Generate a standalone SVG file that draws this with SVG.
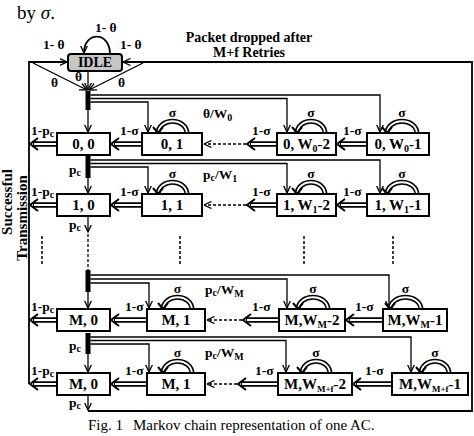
<svg xmlns="http://www.w3.org/2000/svg" width="474" height="436" viewBox="0 0 474 436">
<style>
.n rect{fill:#fff;stroke:#000;stroke-width:2}
.t{font-family:"Liberation Serif","Times New Roman",serif;font-weight:bold;font-size:15px;text-anchor:middle;fill:#000}
.l{font-family:"Liberation Serif","Times New Roman",serif;font-weight:bold;font-size:13.5px;fill:#000}
.s{font-size:10px}
.ss{font-size:9px}
.ln{fill:none;stroke:#000;stroke-width:1.3}
.fr{fill:none;stroke:#000;stroke-width:1.8}
.dsh{fill:none;stroke:#000;stroke-width:1.3;stroke-dasharray:3,2}
.dot{fill:none;stroke:#000;stroke-width:1.5;stroke-dasharray:3,2}
.bar{fill:#000}
.dbo{fill:none;stroke:#000;stroke-width:5.5}
.dbi{fill:none;stroke:#fff;stroke-width:2}
.dbh{fill:none;stroke:#000;stroke-width:2}
.lpo{fill:none;stroke:#000;stroke-width:5}
.lpi{fill:none;stroke:#fff;stroke-width:1.8}
.cap{font-family:"Liberation Serif","Times New Roman",serif;font-size:15px;fill:#000}
</style>
<defs>
<marker id="ah" viewBox="0 0 8 8" refX="7.5" refY="4" markerWidth="8" markerHeight="8" markerUnits="userSpaceOnUse" orient="auto"><path d="M0,0.5L7.5,4L0,7.5" fill="none" stroke="#000" stroke-width="1.3"/></marker>
</defs>

<text x="17" y="19" class="cap" style="font-size:19px">by <tspan font-style="italic">σ</tspan>.</text>

<g id="connectors">
  <!-- frame -->
  <path class="fr" d="M29,384V62H67" marker-end="url(#ah)"/>
  <path class="fr" d="M88,411H472V62H123" marker-end="url(#ah)"/>
  <path class="ln" d="M88,395V410" marker-end="url(#ah)"/>
  <!-- idle self loop -->
  <path class="fr" d="M110,54C110,31 84,31 84,53" marker-end="url(#ah)"/>
  <!-- from IDLE / frame to stage 0 -->
  <path class="ln" d="M33,63L87,90" marker-end="url(#ah)"/>
  <path class="ln" d="M143,63L89,90" marker-end="url(#ah)"/>
  <path class="ln" d="M88,71V90" marker-end="url(#ah)"/>
  <!-- bars -->
  <rect class="bar" x="85.5" y="91" width="5" height="19"/>
  <rect class="bar" x="85.5" y="156" width="5" height="22"/>
  <rect class="bar" x="85.5" y="270" width="5" height="22"/>
  <rect class="bar" x="85.5" y="333" width="5" height="21"/>
  <!-- row 0 fan -->
  <path class="ln" d="M90.5,95H380V132" marker-end="url(#ah)"/>
  <path class="ln" d="M90.5,98.5H287V132" marker-end="url(#ah)"/>
  <path class="ln" d="M90.5,102H148V132" marker-end="url(#ah)"/>
  <path class="ln" d="M88,110V132" marker-end="url(#ah)"/>
  <!-- row 1 fan -->
  <path class="ln" d="M90.5,160H380V193" marker-end="url(#ah)"/>
  <path class="ln" d="M90.5,163.5H287V193" marker-end="url(#ah)"/>
  <path class="ln" d="M90.5,167H148V193" marker-end="url(#ah)"/>
  <path class="ln" d="M88,178V193" marker-end="url(#ah)"/>
  <!-- row1 to row M -->
  <path class="ln" d="M88,217V232" marker-end="url(#ah)"/>
  <path class="dsh" d="M88,234V270"/>
  <!-- row M fan -->
  <path class="ln" d="M90.5,275H389V308" marker-end="url(#ah)"/>
  <path class="ln" d="M90.5,279H287V308" marker-end="url(#ah)"/>
  <path class="ln" d="M90.5,283H149V308" marker-end="url(#ah)"/>
  <path class="ln" d="M88,292V308" marker-end="url(#ah)"/>
  <!-- row M+f fan -->
  <path class="ln" d="M90.5,337H411V372" marker-end="url(#ah)"/>
  <path class="ln" d="M90.5,340.5H286V372" marker-end="url(#ah)"/>
  <path class="ln" d="M90.5,344H149V372" marker-end="url(#ah)"/>
  <path class="ln" d="M88,354V372" marker-end="url(#ah)"/>
  <!-- ellipsis dots -->
  <path class="dot" d="M42,236V265M180,236V265M304,236V265M393,236V265"/>

  <!-- double arrows row 0 -->
  <path class="dbo" d="M33,144H57M114,144H142M250,144H277M340,144H367"/>
  <path class="dbi" d="M34,144H57M115,144H142M251,144H277M341,144H367"/>
  <path class="dbh" d="M38,138L30,144L38,150M119,138L111,144L119,150M255,138L247,144L255,150M345,138L337,144L345,150"/>
  <path class="dsh" d="M246,144H204" marker-end="url(#ah)"/>
  <!-- double arrows row 1 -->
  <path class="dbo" d="M33,205H57M114,205H142M250,205H277M340,205H367"/>
  <path class="dbi" d="M34,205H57M115,205H142M251,205H277M341,205H367"/>
  <path class="dbh" d="M38,199L30,205L38,211M119,199L111,205L119,211M255,199L247,205L255,211M345,199L337,205L345,211"/>
  <path class="dsh" d="M246,205H204" marker-end="url(#ah)"/>
  <!-- double arrows row M -->
  <path class="dbo" d="M33,320H57M114,320H147M246,320H279M349,320H383"/>
  <path class="dbi" d="M34,320H57M115,320H147M247,320H279M350,320H383"/>
  <path class="dbh" d="M38,314L30,320L38,326M119,314L111,320L119,326M251,314L243,320L251,326M354,314L346,320L354,326"/>
  <path class="dsh" d="M242,320H207" marker-end="url(#ah)"/>
  <!-- double arrows row M+f -->
  <path class="dbo" d="M33,384H57M114,384H147M241,384H278M356,384H392"/>
  <path class="dbi" d="M34,384H57M115,384H147M242,384H278M357,384H392"/>
  <path class="dbh" d="M38,378L30,384L38,390M119,378L111,384L119,390M246,378L238,384L246,390M361,378L353,384L361,390"/>
  <path class="dsh" d="M237,384H207" marker-end="url(#ah)"/>

  <!-- self loops -->
  <path class="lpo" d="M187,134C187,117 158,117 158,134M325,134C325,117 297,117 297,134M417,134C417,117 387,117 387,134"/>
  <path class="lpi" d="M187,134C187,117 158,117 158,134M325,134C325,117 297,117 297,134M417,134C417,117 387,117 387,134"/>
  <path class="dbh" d="M153,127L158,133L163,127M292,127L297,133L302,127M382,127L387,133L392,127"/>

  <path class="lpo" d="M187,195C187,178 158,178 158,195M325,195C325,178 297,178 297,195M417,195C417,178 387,178 387,195"/>
  <path class="lpi" d="M187,195C187,178 158,178 158,195M325,195C325,178 297,178 297,195M417,195C417,178 387,178 387,195"/>
  <path class="dbh" d="M153,188L158,194L163,188M292,188L297,194L302,188M382,188L387,194L392,188"/>

  <path class="lpo" d="M192,310C192,293 163,293 163,310M328,310C328,293 298,293 298,310M421,310C421,293 390,293 390,310"/>
  <path class="lpi" d="M192,310C192,293 163,293 163,310M328,310C328,293 298,293 298,310M421,310C421,293 390,293 390,310"/>
  <path class="dbh" d="M158,303L163,309L168,303M293,303L298,309L303,303M385,303L390,309L395,303"/>

  <path class="lpo" d="M192,374C192,357 163,357 163,374M330,374C330,357 302,357 302,374M449,374C449,357 421,357 421,374"/>
  <path class="lpi" d="M192,374C192,357 163,357 163,374M330,374C330,357 302,357 302,374M449,374C449,357 421,357 421,374"/>
  <path class="dbh" d="M158,367L163,373L168,367M297,367L302,373L307,367M416,367L421,373L426,367"/>

  <!-- labels -->
  <g class="l">
    <text x="95" y="32">1- θ</text>
    <text x="43" y="49">1- θ</text>
    <text x="120" y="49">1- θ</text>
    <text x="51" y="87">θ</text>
    <text x="75" y="81">θ</text>
    <text x="118" y="87">θ</text>
    <text x="249" y="42" text-anchor="middle" style="font-size:14px">Packet dropped after</text>
    <text x="249" y="57" text-anchor="middle" style="font-size:14px">M+f  Retries</text>

    <text x="203" y="118">θ/W<tspan class="s" dy="3">0</tspan></text>
    <text x="203" y="179">p<tspan class="s" dy="2">c</tspan><tspan dy="-2">/W</tspan><tspan class="s" dy="3">1</tspan></text>
    <text x="205" y="294">p<tspan class="s" dy="2">c</tspan><tspan dy="-2">/W</tspan><tspan class="s" dy="3">M</tspan></text>
    <text x="205" y="357">p<tspan class="s" dy="2">c</tspan><tspan dy="-2">/W</tspan><tspan class="s" dy="3">M</tspan></text>

    <text x="69" y="174">p<tspan class="s" dy="2">c</tspan></text>
    <text x="69" y="229">p<tspan class="s" dy="2">c</tspan></text>
    <text x="69" y="350">p<tspan class="s" dy="2">c</tspan></text>
    <text x="69" y="407">p<tspan class="s" dy="2">c</tspan></text>

    <text x="31" y="135">1-p<tspan class="s" dy="2">c</tspan></text>
    <text x="31" y="196">1-p<tspan class="s" dy="2">c</tspan></text>
    <text x="31" y="311">1-p<tspan class="s" dy="2">c</tspan></text>
    <text x="31" y="375">1-p<tspan class="s" dy="2">c</tspan></text>

    <text x="120" y="135">1-σ</text><text x="252" y="135">1-σ</text><text x="343" y="135">1-σ</text>
    <text x="120" y="196">1-σ</text><text x="252" y="196">1-σ</text><text x="343" y="196">1-σ</text>
    <text x="125" y="311">1-σ</text><text x="252" y="311">1-σ</text><text x="355" y="311">1-σ</text>
    <text x="125" y="375">1-σ</text><text x="255" y="375">1-σ</text><text x="365" y="375">1-σ</text>

    <g text-anchor="middle">
      <text x="172.5" y="117">σ</text><text x="311" y="117">σ</text><text x="402" y="117">σ</text>
      <text x="172.5" y="178">σ</text><text x="311" y="178">σ</text><text x="402" y="178">σ</text>
      <text x="177.5" y="293">σ</text><text x="313" y="293">σ</text><text x="405.5" y="293">σ</text>
      <text x="177.5" y="357">σ</text><text x="316" y="357">σ</text><text x="435" y="357">σ</text>
    </g>
    <text transform="translate(12,202) rotate(-90)" text-anchor="middle" style="font-size:15px">Successful</text>
    <text transform="translate(27,218) rotate(-90)" text-anchor="middle" style="font-size:15px">Transmission</text>
  </g>
</g>

<g id="idle"><rect x="68" y="54" width="54" height="17" rx="3" fill="#c6c6c6" stroke="#000" stroke-width="2"/><text class="t" x="95" y="67" style="font-size:14px">IDLE</text></g>

<g id="n00" class="n"><rect x="57" y="133" width="53" height="22"/><text class="t" x="83.5" y="149">0, 0</text></g>
<g id="n01" class="n"><rect x="142" y="133" width="60" height="22"/><text class="t" x="172" y="149">0, 1</text></g>
<g id="n02" class="n"><rect x="277" y="133" width="59" height="22"/><text class="t" x="306.5" y="149">0, W<tspan class="s" dy="3">0</tspan><tspan dy="-3">-2</tspan></text></g>
<g id="n03" class="n"><rect x="367" y="133" width="62" height="22"/><text class="t" x="398" y="149">0, W<tspan class="s" dy="3">0</tspan><tspan dy="-3">-1</tspan></text></g>

<g id="n10" class="n"><rect x="57" y="194" width="53" height="22"/><text class="t" x="83.5" y="210">1, 0</text></g>
<g id="n11" class="n"><rect x="142" y="194" width="60" height="22"/><text class="t" x="172" y="210">1, 1</text></g>
<g id="n12" class="n"><rect x="277" y="194" width="59" height="22"/><text class="t" x="306.5" y="210">1, W<tspan class="s" dy="3">1</tspan><tspan dy="-3">-2</tspan></text></g>
<g id="n13" class="n"><rect x="367" y="194" width="62" height="22"/><text class="t" x="398" y="210">1, W<tspan class="s" dy="3">1</tspan><tspan dy="-3">-1</tspan></text></g>

<g id="nM0" class="n"><rect x="57" y="309" width="53" height="22"/><text class="t" x="83.5" y="325">M, 0</text></g>
<g id="nM1" class="n"><rect x="147" y="309" width="58" height="22"/><text class="t" x="176" y="325">M, 1</text></g>
<g id="nM2" class="n"><rect x="279" y="309" width="66" height="22"/><text class="t" x="312" y="325">M,W<tspan class="s" dy="3">M</tspan><tspan dy="-3">-2</tspan></text></g>
<g id="nM3" class="n"><rect x="383" y="309" width="64" height="22"/><text class="t" x="415" y="325">M,W<tspan class="s" dy="3">M</tspan><tspan dy="-3">-1</tspan></text></g>

<g id="nF0" class="n"><rect x="57" y="373" width="53" height="22"/><text class="t" x="83.5" y="389">M, 0</text></g>
<g id="nF1" class="n"><rect x="147" y="373" width="58" height="22"/><text class="t" x="176" y="389">M, 1</text></g>
<g id="nF2" class="n"><rect x="278" y="373" width="74" height="22"/><text class="t" x="315" y="389">M,W<tspan class="ss" dy="3">M+f</tspan><tspan dy="-3">-2</tspan></text></g>
<g id="nF3" class="n"><rect x="392" y="373" width="76" height="22"/><text class="t" x="430" y="389">M,W<tspan class="ss" dy="3">M+f</tspan><tspan dy="-3">-1</tspan></text></g>

<text class="cap" x="88" y="430">Fig. 1<tspan x="133">Markov chain representation of one AC.</tspan></text>
</svg>
